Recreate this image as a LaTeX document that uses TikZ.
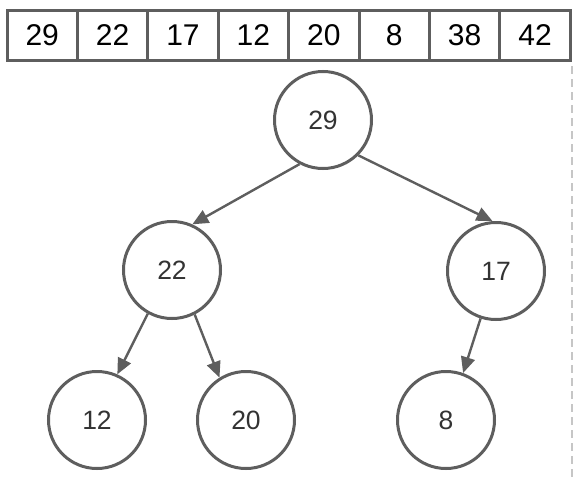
\documentclass[tikz,border=0pt]{standalone}
\usepackage{fontspec}
\setmainfont{Liberation Sans}
\usetikzlibrary{arrows.meta}
\definecolor{edge}{HTML}{5E5E5E}
\definecolor{txt}{HTML}{333333}
\tikzset{
  cell/.style={draw=edge, line width=3pt, minimum width=70.4pt, minimum height=50pt, inner sep=0pt, font=\fontsize{30}{30}\selectfont, text=black},
  heapnode/.style={circle, draw=edge, line width=3pt, minimum size=97pt, inner sep=0pt, font=\fontsize{26.5}{26.5}\selectfont, text=txt},
  link/.style={draw=edge, line width=2.4pt, -{Triangle[length=16pt,width=14pt]}}
}
\begin{document}
\begin{tikzpicture}[x=1pt,y=-1pt]
\useasboundingbox (0,0) rectangle (576,482);
\foreach \v [count=\i from 0] in {29,22,17,12,20,8,38,42}{
  \node[cell] (c\i) at ({7+70.4*(\i+0.5)},35) {\v};
}
\draw[draw=gray!45, line width=2pt, dash pattern=on 8pt off 5pt] (572,66) coordinate (dtop) -- (572,482) coordinate (dbot);
\node[heapnode] (n29) at (323,120) {29};
\node[heapnode] (n22) at (172,270) {22};
\node[heapnode] (n17) at (496,271) {17};
\node[heapnode] (n12) at (97,420) {12};
\node[heapnode] (n20) at (246,420) {20};
\node[heapnode] (n8)  at (446,420) {8};
\draw[link] (n29.-118) -- (n22.66);
\draw[link] (n29.-45) -- (n17.94);
\draw[link] (n22.-119) -- (n12.66);
\draw[link] (n22.-63) -- (n20.122);
\draw[link] (n17.-108) -- (n8.70);
\end{tikzpicture}
\end{document}
